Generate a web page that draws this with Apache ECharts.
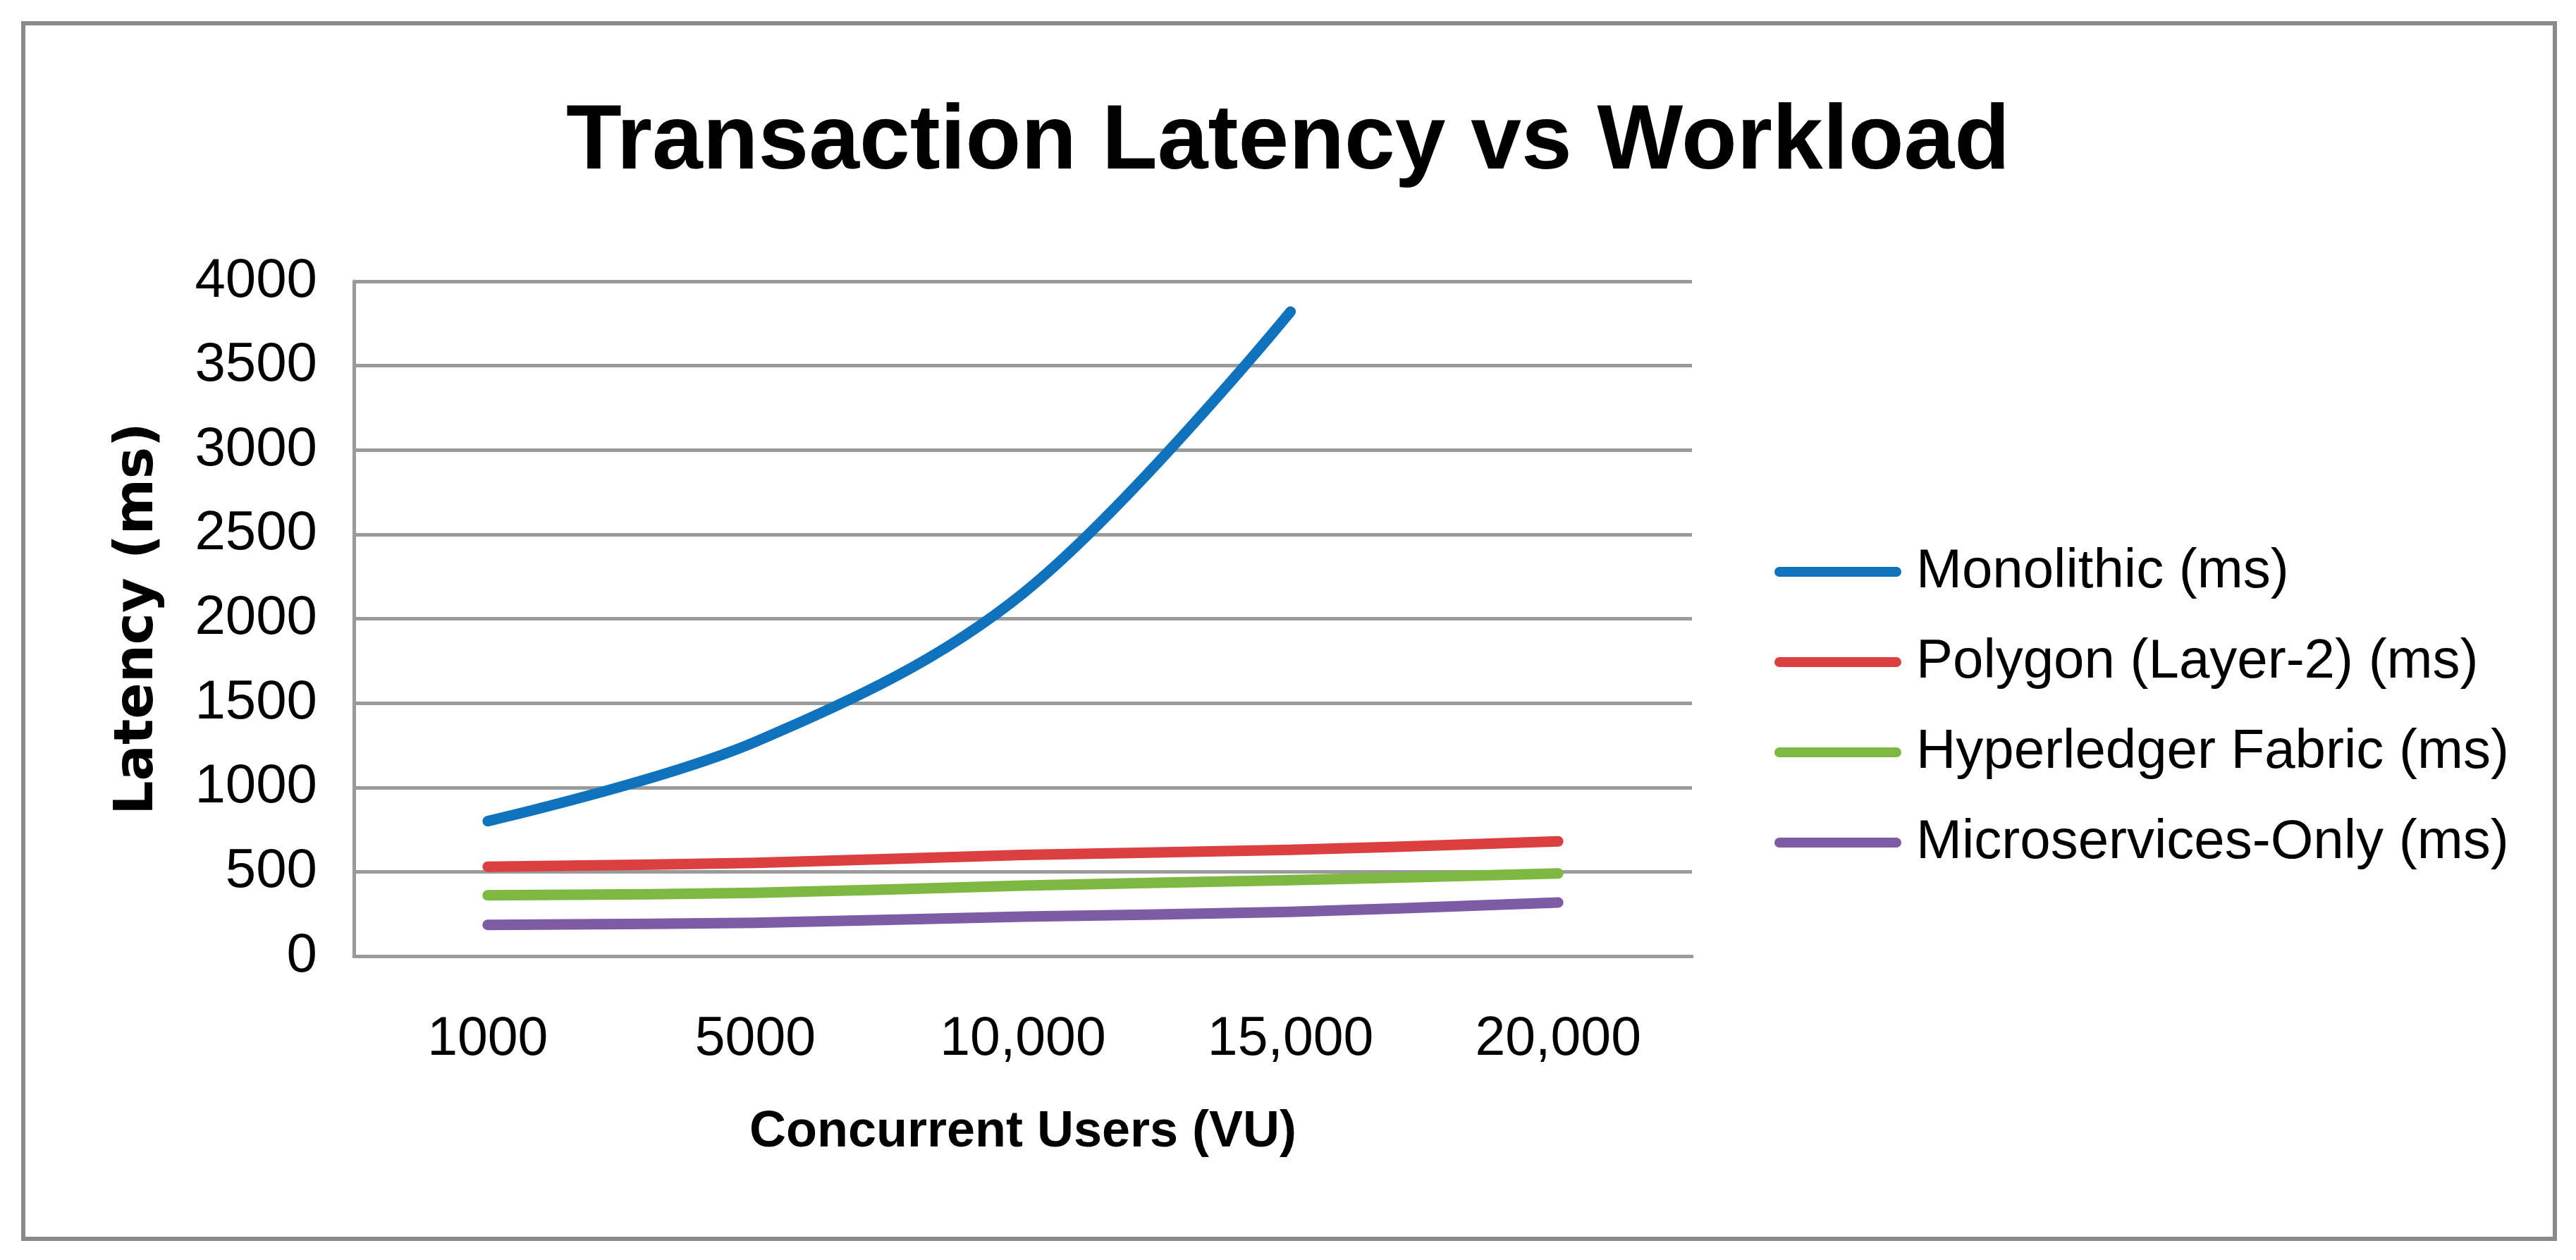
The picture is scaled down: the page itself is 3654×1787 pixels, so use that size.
<!DOCTYPE html>
<html>
	<head>
		<meta charset="utf-8">
		<title>Transaction Latency vs Workload</title>
		<script src="https://cdn.jsdelivr.net/npm/echarts@6/dist/echarts.min.js"></script>
		<style>
			html, body { margin: 0; padding: 0; background: #fff; }
			#main { width: 3654px; height: 1787px; }
		</style>
	</head>
	<body>
		<div id="main"></div>
		<script>
			// 横轴类目
			var categories = ['1000', '5000', '10,000', '15,000', '20,000'];
			// 各系列延迟 (ms)
			var monolithic = [800, 1270, 2150, 3820, null];
			var polygon = [530, 553, 600, 630, 680];
			var hyperledger = [360, 375, 418, 450, 490];
			var microservices = [185, 198, 234, 262, 318];
			var seriesNames = ['Monolithic (ms)', 'Polygon (Layer-2) (ms)', 'Hyperledger Fabric (ms)', 'Microservices-Only (ms)'];
			var colors = ['#0F72BD', '#DB3F3F', '#7DB843', '#7D5BA5'];
			// 纵轴刻度
			var yMin = 0, yMax = 4000, yStep = 500;

			var myChart = echarts.init(document.getElementById('main'));

			function makeLine(name, data, color) {
				return {
					name: name,
					type: 'line',
					data: data,
					smooth: 0.35,
					showSymbol: false,
					symbol: 'none',
					connectNulls: false,
					lineStyle: { width: 15, color: color, cap: 'round', join: 'round' },
					itemStyle: { color: color }
				};
			}

			var option = {
				backgroundColor: '#fff',
				color: colors,
				title: {
					text: 'Transaction Latency vs Workload',
					left: 'center',
					top: 134,
					textStyle: { fontFamily: 'Liberation Sans', fontWeight: 'bold', fontSize: 129, color: '#000' }
				},
				graphic: [{
					type: 'rect',
					shape: { x: 33, y: 33, width: 3591, height: 1724 },
					style: { fill: null, stroke: '#8a8a8a', lineWidth: 6 },
					silent: true
				}],
				legend: {
					orient: 'vertical',
					left: 2512,
					top: 766,
					itemWidth: 180,
					itemHeight: 14,
					itemGap: 48,
					icon: 'path://M7,0 H173 A7,7 0 0 1 173,14 H7 A7,7 0 0 1 7,0 Z',
					data: seriesNames,
					textStyle: { fontFamily: 'Liberation Sans', fontSize: 78, color: '#000', lineHeight: 80, padding: [0, 0, 0, 16] }
				},
				grid: { left: 502, right: 1254, top: 399, bottom: 431, containLabel: false },
				xAxis: {
					type: 'category',
					data: categories,
					boundaryGap: true,
					name: 'Concurrent Users (VU)',
					nameLocation: 'middle',
					nameGap: 214,
					nameTextStyle: { fontFamily: 'Liberation Sans', fontWeight: 'bold', fontSize: 72, color: '#000' },
					axisLine: { lineStyle: { color: '#9a9a9a', width: 5 } },
					axisTick: { show: false },
					axisLabel: { fontFamily: 'Liberation Sans', fontSize: 77, color: '#000', margin: 80 }
				},
				yAxis: {
					type: 'value',
					min: yMin,
					max: yMax,
					interval: yStep,
					name: 'Latency (ms)',
					nameLocation: 'middle',
					nameGap: 268,
					nameTextStyle: { fontFamily: 'DejaVu Sans', fontWeight: 'bold', fontSize: 76, color: '#000' },
					axisLine: { show: true, lineStyle: { color: '#9a9a9a', width: 5 } },
					axisTick: { show: false },
					axisLabel: {
						fontFamily: 'Liberation Sans', fontSize: 78, color: '#000', margin: 52,
						formatter: function (v) { return String(v); }
					},
					splitLine: { lineStyle: { color: '#9a9a9a', width: 5 } }
				},
				series: [
					makeLine(seriesNames[0], monolithic, colors[0]),
					makeLine(seriesNames[1], polygon, colors[1]),
					makeLine(seriesNames[2], hyperledger, colors[2]),
					makeLine(seriesNames[3], microservices, colors[3])
				]
			};

			myChart.setOption(option);
		</script>
	</body>
</html>
